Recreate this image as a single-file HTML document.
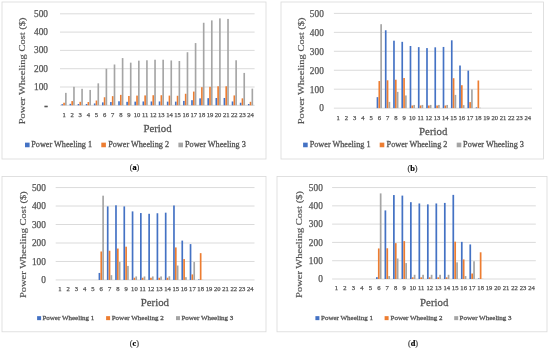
<!DOCTYPE html>
<html lang="en">
<head>
<meta charset="utf-8">
<title>Power Wheeling Cost per Period</title>
<style>
html,body{margin:0;padding:0;background:#fff;}
body{width:550px;height:350px;overflow:hidden;position:relative;}
svg{position:absolute;left:0;top:0;display:block;}
text{font-family:'Liberation Serif', 'DejaVu Serif', serif;fill:#555555;stroke:#555555;stroke-width:0.25px;}
.yt{font-size:9.3px;text-anchor:end;}
.xt{font-size:6.6px;text-anchor:middle;stroke-width:0.25px;}
.ttl{font-size:10.8px;text-anchor:middle;stroke-width:0.28px;}
.ytl{font-size:9.2px;text-anchor:middle;stroke-width:0.18px;}
.cap{font-size:8.3px;text-anchor:middle;fill:#333;stroke:#333;stroke-width:0.15px;}
.cap tspan{font-weight:bold;fill:#000;stroke:#000;stroke-width:0.2px;}
</style>
</head>
<body>
<svg width="550" height="350" viewBox="0 0 550 350">
<rect x="0" y="0" width="550" height="350" fill="#ffffff"/>
<g id="chart-a">
<rect x="2" y="2" width="264.0" height="157.0" fill="#fff" stroke="#D9D9D9" stroke-width="0.8"/>
<line x1="60.0" x2="254.6" y1="105.30" y2="105.30" stroke="#D2D2D2" stroke-width="0.8"/>
<text class="yt" style="stroke-width:0.8px" x="47.7" y="109.00">-</text>
<line x1="60.0" x2="254.6" y1="87.00" y2="87.00" stroke="#D2D2D2" stroke-width="0.8"/>
<text class="yt" x="48.0" y="90.00">100</text>
<line x1="60.0" x2="254.6" y1="68.70" y2="68.70" stroke="#D2D2D2" stroke-width="0.8"/>
<text class="yt" x="48.0" y="71.70">200</text>
<line x1="60.0" x2="254.6" y1="50.40" y2="50.40" stroke="#D2D2D2" stroke-width="0.8"/>
<text class="yt" x="48.0" y="53.40">300</text>
<line x1="60.0" x2="254.6" y1="32.10" y2="32.10" stroke="#D2D2D2" stroke-width="0.8"/>
<text class="yt" x="48.0" y="35.10">400</text>
<line x1="60.0" x2="254.6" y1="13.80" y2="13.80" stroke="#D2D2D2" stroke-width="0.8"/>
<text class="yt" x="48.0" y="16.80">500</text>
<g fill="#4472C4"><rect x="61.44" y="104.20" width="1.64" height="1.10"/><rect x="69.54" y="103.84" width="1.64" height="1.46"/><rect x="77.65" y="104.02" width="1.64" height="1.28"/><rect x="85.76" y="104.02" width="1.64" height="1.28"/><rect x="93.87" y="103.47" width="1.64" height="1.83"/><rect x="101.98" y="102.37" width="1.64" height="2.93"/><rect x="110.09" y="102.01" width="1.64" height="3.29"/><rect x="118.19" y="101.27" width="1.64" height="4.03"/><rect x="126.30" y="101.82" width="1.64" height="3.48"/><rect x="134.41" y="101.64" width="1.64" height="3.66"/><rect x="142.52" y="101.46" width="1.64" height="3.84"/><rect x="150.63" y="101.46" width="1.64" height="3.84"/><rect x="158.74" y="101.46" width="1.64" height="3.84"/><rect x="166.84" y="101.64" width="1.64" height="3.66"/><rect x="174.95" y="101.64" width="1.64" height="3.66"/><rect x="183.06" y="100.91" width="1.64" height="4.39"/><rect x="191.17" y="100.18" width="1.64" height="5.12"/><rect x="199.28" y="98.35" width="1.64" height="6.95"/><rect x="207.39" y="98.16" width="1.64" height="7.14"/><rect x="215.49" y="97.98" width="1.64" height="7.32"/><rect x="223.60" y="97.98" width="1.64" height="7.32"/><rect x="231.71" y="101.46" width="1.64" height="3.84"/><rect x="239.82" y="102.74" width="1.64" height="2.56"/><rect x="247.93" y="104.02" width="1.64" height="1.28"/></g>
<g fill="#ED7D31"><rect x="63.23" y="102.74" width="1.64" height="2.56"/><rect x="71.34" y="101.09" width="1.64" height="4.21"/><rect x="79.45" y="101.82" width="1.64" height="3.48"/><rect x="87.56" y="102.01" width="1.64" height="3.29"/><rect x="95.67" y="100.54" width="1.64" height="4.76"/><rect x="103.78" y="97.25" width="1.64" height="8.05"/><rect x="111.88" y="96.15" width="1.64" height="9.15"/><rect x="119.99" y="94.87" width="1.64" height="10.43"/><rect x="128.10" y="95.97" width="1.64" height="9.33"/><rect x="136.21" y="95.60" width="1.64" height="9.70"/><rect x="144.32" y="95.42" width="1.64" height="9.88"/><rect x="152.43" y="95.23" width="1.64" height="10.06"/><rect x="160.53" y="95.23" width="1.64" height="10.06"/><rect x="168.64" y="95.60" width="1.64" height="9.70"/><rect x="176.75" y="95.78" width="1.64" height="9.52"/><rect x="184.86" y="93.77" width="1.64" height="11.53"/><rect x="192.97" y="91.58" width="1.64" height="13.72"/><rect x="201.08" y="87.18" width="1.64" height="18.12"/><rect x="209.18" y="86.82" width="1.64" height="18.48"/><rect x="217.29" y="86.27" width="1.64" height="19.03"/><rect x="225.40" y="86.27" width="1.64" height="19.03"/><rect x="233.51" y="95.42" width="1.64" height="9.88"/><rect x="241.62" y="98.35" width="1.64" height="6.95"/><rect x="249.73" y="101.82" width="1.64" height="3.48"/></g>
<g fill="#A5A5A5"><rect x="65.03" y="92.86" width="1.64" height="12.44"/><rect x="73.14" y="86.82" width="1.64" height="18.48"/><rect x="81.25" y="88.83" width="1.64" height="16.47"/><rect x="89.36" y="89.93" width="1.64" height="15.37"/><rect x="97.46" y="83.34" width="1.64" height="21.96"/><rect x="105.57" y="68.70" width="1.64" height="36.60"/><rect x="113.68" y="64.49" width="1.64" height="40.81"/><rect x="121.79" y="58.09" width="1.64" height="47.21"/><rect x="129.90" y="62.66" width="1.64" height="42.64"/><rect x="138.01" y="60.65" width="1.64" height="44.65"/><rect x="146.11" y="60.28" width="1.64" height="45.02"/><rect x="154.22" y="59.73" width="1.64" height="45.57"/><rect x="162.33" y="59.73" width="1.64" height="45.57"/><rect x="170.44" y="60.46" width="1.64" height="44.84"/><rect x="178.55" y="61.01" width="1.64" height="44.29"/><rect x="186.66" y="52.23" width="1.64" height="53.07"/><rect x="194.76" y="43.08" width="1.64" height="62.22"/><rect x="202.87" y="22.77" width="1.64" height="82.53"/><rect x="210.98" y="20.39" width="1.64" height="84.91"/><rect x="219.09" y="18.38" width="1.64" height="86.92"/><rect x="227.20" y="18.92" width="1.64" height="86.38"/><rect x="235.31" y="60.28" width="1.64" height="45.02"/><rect x="243.41" y="72.91" width="1.64" height="32.39"/><rect x="251.52" y="88.65" width="1.64" height="16.65"/></g>
<text class="xt" x="64.05" y="116.75">1</text><text class="xt" x="72.16" y="116.75">2</text><text class="xt" x="80.27" y="116.75">3</text><text class="xt" x="88.38" y="116.75">4</text><text class="xt" x="96.49" y="116.75">5</text><text class="xt" x="104.60" y="116.75">6</text><text class="xt" x="112.70" y="116.75">7</text><text class="xt" x="120.81" y="116.75">8</text><text class="xt" x="128.92" y="116.75">9</text><text class="xt" x="137.03" y="116.75">10</text><text class="xt" x="145.14" y="116.75">11</text><text class="xt" x="153.25" y="116.75">12</text><text class="xt" x="161.35" y="116.75">13</text><text class="xt" x="169.46" y="116.75">14</text><text class="xt" x="177.57" y="116.75">15</text><text class="xt" x="185.68" y="116.75">16</text><text class="xt" x="193.79" y="116.75">17</text><text class="xt" x="201.90" y="116.75">18</text><text class="xt" x="210.00" y="116.75">19</text><text class="xt" x="218.11" y="116.75">20</text><text class="xt" x="226.22" y="116.75">21</text><text class="xt" x="234.33" y="116.75">22</text><text class="xt" x="242.44" y="116.75">23</text><text class="xt" x="250.55" y="116.75">24</text>
<text class="ttl" x="157.5" y="131.80">Period</text>
<text class="ytl" textLength="106.8" lengthAdjust="spacingAndGlyphs" transform="translate(25.2,70.9) rotate(-90)">Power Wheeling Cost ($)</text>
<rect x="25.0" y="142.65" width="4.6" height="4.6" fill="#4472C4"/><text x="31.3" y="147.49" style="font-size:8.2px;stroke-width:0.3px">Power Wheeling 1</text>
<rect x="101.3" y="142.65" width="4.6" height="4.6" fill="#ED7D31"/><text x="108.2" y="147.49" style="font-size:8.2px;stroke-width:0.3px">Power Wheeling 2</text>
<rect x="178.4" y="142.65" width="4.6" height="4.6" fill="#A5A5A5"/><text x="185.0" y="147.49" style="font-size:8.2px;stroke-width:0.3px">Power Wheeling 3</text>
<text class="cap" x="134.5" y="170.30">(<tspan>a</tspan>)</text>
</g>
<g id="chart-b">
<rect x="281" y="2" width="262.5" height="157.0" fill="#fff" stroke="#D9D9D9" stroke-width="0.8"/>
<line x1="333.9" x2="532.0" y1="108.15" y2="108.15" stroke="#D2D2D2" stroke-width="0.8"/>
<text class="yt" x="323.8" y="111.45">0</text>
<line x1="333.9" x2="532.0" y1="89.20" y2="89.20" stroke="#D2D2D2" stroke-width="0.8"/>
<text class="yt" x="323.8" y="92.50">100</text>
<line x1="333.9" x2="532.0" y1="70.25" y2="70.25" stroke="#D2D2D2" stroke-width="0.8"/>
<text class="yt" x="323.8" y="73.55">200</text>
<line x1="333.9" x2="532.0" y1="51.30" y2="51.30" stroke="#D2D2D2" stroke-width="0.8"/>
<text class="yt" x="323.8" y="54.60">300</text>
<line x1="333.9" x2="532.0" y1="32.35" y2="32.35" stroke="#D2D2D2" stroke-width="0.8"/>
<text class="yt" x="323.8" y="35.65">400</text>
<line x1="333.9" x2="532.0" y1="13.40" y2="13.40" stroke="#D2D2D2" stroke-width="0.8"/>
<text class="yt" x="323.8" y="16.70">500</text>
<g fill="#4472C4"><rect x="376.63" y="97.16" width="1.67" height="10.99"/><rect x="384.89" y="30.27" width="1.67" height="77.88"/><rect x="393.14" y="40.69" width="1.67" height="67.46"/><rect x="401.40" y="41.83" width="1.67" height="66.33"/><rect x="409.65" y="45.99" width="1.67" height="62.16"/><rect x="417.90" y="47.13" width="1.67" height="61.02"/><rect x="426.16" y="48.08" width="1.67" height="60.07"/><rect x="434.41" y="47.32" width="1.67" height="60.83"/><rect x="442.67" y="46.94" width="1.67" height="61.21"/><rect x="450.92" y="40.31" width="1.67" height="67.84"/><rect x="459.17" y="65.51" width="1.67" height="42.64"/><rect x="467.43" y="70.63" width="1.67" height="37.52"/><rect x="475.68" y="107.39" width="1.67" height="0.76"/></g>
<g fill="#ED7D31"><rect x="378.46" y="81.05" width="1.67" height="27.10"/><rect x="386.72" y="80.29" width="1.67" height="27.86"/><rect x="394.97" y="79.73" width="1.67" height="28.43"/><rect x="403.22" y="78.02" width="1.67" height="30.13"/><rect x="411.48" y="105.50" width="1.67" height="2.65"/><rect x="419.73" y="105.50" width="1.67" height="2.65"/><rect x="427.99" y="105.50" width="1.67" height="2.65"/><rect x="436.24" y="105.50" width="1.67" height="2.65"/><rect x="444.50" y="105.50" width="1.67" height="2.65"/><rect x="452.75" y="78.21" width="1.67" height="29.94"/><rect x="461.00" y="85.22" width="1.67" height="22.93"/><rect x="469.26" y="102.09" width="1.67" height="6.06"/><rect x="477.51" y="80.48" width="1.67" height="27.67"/></g>
<g fill="#A5A5A5"><rect x="380.29" y="24.20" width="1.67" height="83.95"/><rect x="388.55" y="101.90" width="1.67" height="6.25"/><rect x="396.80" y="91.85" width="1.67" height="16.30"/><rect x="405.05" y="95.45" width="1.67" height="12.70"/><rect x="413.31" y="104.93" width="1.67" height="3.22"/><rect x="421.56" y="104.93" width="1.67" height="3.22"/><rect x="429.82" y="104.93" width="1.67" height="3.22"/><rect x="438.07" y="104.93" width="1.67" height="3.22"/><rect x="446.33" y="104.93" width="1.67" height="3.22"/><rect x="454.58" y="94.89" width="1.67" height="13.27"/><rect x="462.83" y="105.12" width="1.67" height="3.03"/><rect x="471.09" y="89.39" width="1.67" height="18.76"/><rect x="479.34" y="107.77" width="1.67" height="0.38"/></g>
<text class="xt" x="338.03" y="119.55">1</text><text class="xt" x="346.28" y="119.55">2</text><text class="xt" x="354.54" y="119.55">3</text><text class="xt" x="362.79" y="119.55">4</text><text class="xt" x="371.04" y="119.55">5</text><text class="xt" x="379.30" y="119.55">6</text><text class="xt" x="387.55" y="119.55">7</text><text class="xt" x="395.81" y="119.55">8</text><text class="xt" x="404.06" y="119.55">9</text><text class="xt" x="412.31" y="119.55">10</text><text class="xt" x="420.57" y="119.55">11</text><text class="xt" x="428.82" y="119.55">12</text><text class="xt" x="437.08" y="119.55">13</text><text class="xt" x="445.33" y="119.55">14</text><text class="xt" x="453.59" y="119.55">15</text><text class="xt" x="461.84" y="119.55">16</text><text class="xt" x="470.09" y="119.55">17</text><text class="xt" x="478.35" y="119.55">18</text><text class="xt" x="486.60" y="119.55">19</text><text class="xt" x="494.86" y="119.55">20</text><text class="xt" x="503.11" y="119.55">21</text><text class="xt" x="511.36" y="119.55">22</text><text class="xt" x="519.62" y="119.55">23</text><text class="xt" x="527.87" y="119.55">24</text>
<text class="ttl" x="433.2" y="134.50">Period</text>
<text class="ytl" textLength="106.8" lengthAdjust="spacingAndGlyphs" transform="translate(303.6,70.9) rotate(-90)">Power Wheeling Cost ($)</text>
<rect x="303.1" y="142.65" width="4.6" height="4.6" fill="#4472C4"/><text x="309.7" y="147.49" style="font-size:8.2px;stroke-width:0.3px">Power Wheeling 1</text>
<rect x="379.7" y="142.65" width="4.6" height="4.6" fill="#ED7D31"/><text x="386.6" y="147.49" style="font-size:8.2px;stroke-width:0.3px">Power Wheeling 2</text>
<rect x="456.7" y="142.65" width="4.6" height="4.6" fill="#A5A5A5"/><text x="463.1" y="147.49" style="font-size:8.2px;stroke-width:0.3px">Power Wheeling 3</text>
<text class="cap" x="412.5" y="170.60">(<tspan>b</tspan>)</text>
</g>
<g id="chart-c">
<rect x="2" y="176.5" width="264.0" height="155.3" fill="#fff" stroke="#D9D9D9" stroke-width="0.8"/>
<line x1="55.7" x2="254.5" y1="279.95" y2="279.95" stroke="#D2D2D2" stroke-width="0.8"/>
<text class="yt" x="45.9" y="283.25">0</text>
<line x1="55.7" x2="254.5" y1="261.47" y2="261.47" stroke="#D2D2D2" stroke-width="0.8"/>
<text class="yt" x="45.9" y="264.77">100</text>
<line x1="55.7" x2="254.5" y1="242.99" y2="242.99" stroke="#D2D2D2" stroke-width="0.8"/>
<text class="yt" x="45.9" y="246.29">200</text>
<line x1="55.7" x2="254.5" y1="224.51" y2="224.51" stroke="#D2D2D2" stroke-width="0.8"/>
<text class="yt" x="45.9" y="227.81">300</text>
<line x1="55.7" x2="254.5" y1="206.03" y2="206.03" stroke="#D2D2D2" stroke-width="0.8"/>
<text class="yt" x="45.9" y="209.33">400</text>
<line x1="55.7" x2="254.5" y1="187.55" y2="187.55" stroke="#D2D2D2" stroke-width="0.8"/>
<text class="yt" x="45.9" y="190.85">500</text>
<g fill="#4472C4"><rect x="98.58" y="272.93" width="1.68" height="7.02"/><rect x="106.87" y="206.40" width="1.68" height="73.55"/><rect x="115.15" y="205.29" width="1.68" height="74.66"/><rect x="123.43" y="206.40" width="1.68" height="73.55"/><rect x="131.72" y="211.39" width="1.68" height="68.56"/><rect x="140.00" y="213.05" width="1.68" height="66.90"/><rect x="148.28" y="213.79" width="1.68" height="66.16"/><rect x="156.57" y="213.24" width="1.68" height="66.71"/><rect x="164.85" y="212.68" width="1.68" height="67.27"/><rect x="173.13" y="205.48" width="1.68" height="74.47"/><rect x="181.42" y="240.59" width="1.68" height="39.36"/><rect x="189.70" y="244.10" width="1.68" height="35.85"/><rect x="197.98" y="279.40" width="1.68" height="0.55"/></g>
<g fill="#ED7D31"><rect x="100.42" y="251.49" width="1.68" height="28.46"/><rect x="108.70" y="250.75" width="1.68" height="29.20"/><rect x="116.99" y="248.53" width="1.68" height="31.42"/><rect x="125.27" y="246.69" width="1.68" height="33.26"/><rect x="133.55" y="277.73" width="1.68" height="2.22"/><rect x="141.84" y="277.73" width="1.68" height="2.22"/><rect x="150.12" y="277.73" width="1.68" height="2.22"/><rect x="158.40" y="277.73" width="1.68" height="2.22"/><rect x="166.69" y="277.73" width="1.68" height="2.22"/><rect x="174.97" y="247.43" width="1.68" height="32.52"/><rect x="183.25" y="259.07" width="1.68" height="20.88"/><rect x="191.54" y="274.41" width="1.68" height="5.54"/><rect x="199.82" y="253.15" width="1.68" height="26.80"/></g>
<g fill="#A5A5A5"><rect x="102.26" y="195.68" width="1.68" height="84.27"/><rect x="110.54" y="275.15" width="1.68" height="4.80"/><rect x="118.82" y="262.02" width="1.68" height="17.93"/><rect x="127.11" y="265.91" width="1.68" height="14.04"/><rect x="135.39" y="276.44" width="1.68" height="3.51"/><rect x="143.67" y="276.44" width="1.68" height="3.51"/><rect x="151.96" y="276.44" width="1.68" height="3.51"/><rect x="160.24" y="276.44" width="1.68" height="3.51"/><rect x="168.52" y="276.25" width="1.68" height="3.70"/><rect x="176.81" y="265.54" width="1.68" height="14.41"/><rect x="185.09" y="277.18" width="1.68" height="2.77"/><rect x="193.37" y="262.02" width="1.68" height="17.93"/><rect x="201.66" y="279.77" width="1.68" height="0.18"/></g>
<text class="xt" x="59.84" y="290.85">1</text><text class="xt" x="68.12" y="290.85">2</text><text class="xt" x="76.41" y="290.85">3</text><text class="xt" x="84.69" y="290.85">4</text><text class="xt" x="92.97" y="290.85">5</text><text class="xt" x="101.26" y="290.85">6</text><text class="xt" x="109.54" y="290.85">7</text><text class="xt" x="117.83" y="290.85">8</text><text class="xt" x="126.11" y="290.85">9</text><text class="xt" x="134.39" y="290.85">10</text><text class="xt" x="142.68" y="290.85">11</text><text class="xt" x="150.96" y="290.85">12</text><text class="xt" x="159.24" y="290.85">13</text><text class="xt" x="167.53" y="290.85">14</text><text class="xt" x="175.81" y="290.85">15</text><text class="xt" x="184.09" y="290.85">16</text><text class="xt" x="192.38" y="290.85">17</text><text class="xt" x="200.66" y="290.85">18</text><text class="xt" x="208.94" y="290.85">19</text><text class="xt" x="217.23" y="290.85">20</text><text class="xt" x="225.51" y="290.85">21</text><text class="xt" x="233.79" y="290.85">22</text><text class="xt" x="242.07" y="290.85">23</text><text class="xt" x="250.36" y="290.85">24</text>
<text class="ttl" x="154.9" y="306.30">Period</text>
<text class="ytl" textLength="106.8" lengthAdjust="spacingAndGlyphs" transform="translate(25.6,244.7) rotate(-90)">Power Wheeling Cost ($)</text>
<rect x="37.1" y="316.15" width="4.0" height="4.0" fill="#4472C4"/><text x="42.4" y="320.32" style="font-size:7.0px;stroke-width:0.3px">Power Wheeling 1</text>
<rect x="106.1" y="316.15" width="4.0" height="4.0" fill="#ED7D31"/><text x="111.7" y="320.32" style="font-size:7.0px;stroke-width:0.3px">Power Wheeling 2</text>
<rect x="176.0" y="316.15" width="4.0" height="4.0" fill="#A5A5A5"/><text x="181.4" y="320.32" style="font-size:7.0px;stroke-width:0.3px">Power Wheeling 3</text>
<text class="cap" x="134.4" y="346.40">(<tspan>c</tspan>)</text>
</g>
<g id="chart-d">
<rect x="277" y="176.5" width="270.0" height="155.3" fill="#fff" stroke="#D9D9D9" stroke-width="0.8"/>
<line x1="332.1" x2="535.8" y1="279.00" y2="279.00" stroke="#D2D2D2" stroke-width="0.8"/>
<text class="yt" x="322.8" y="282.30">0</text>
<line x1="332.1" x2="535.8" y1="260.71" y2="260.71" stroke="#D2D2D2" stroke-width="0.8"/>
<text class="yt" x="322.8" y="264.01">100</text>
<line x1="332.1" x2="535.8" y1="242.42" y2="242.42" stroke="#D2D2D2" stroke-width="0.8"/>
<text class="yt" x="322.8" y="245.72">200</text>
<line x1="332.1" x2="535.8" y1="224.13" y2="224.13" stroke="#D2D2D2" stroke-width="0.8"/>
<text class="yt" x="322.8" y="227.43">300</text>
<line x1="332.1" x2="535.8" y1="205.84" y2="205.84" stroke="#D2D2D2" stroke-width="0.8"/>
<text class="yt" x="322.8" y="209.14">400</text>
<line x1="332.1" x2="535.8" y1="187.55" y2="187.55" stroke="#D2D2D2" stroke-width="0.8"/>
<text class="yt" x="322.8" y="190.85">500</text>
<g fill="#4472C4"><rect x="376.04" y="277.17" width="1.72" height="1.83"/><rect x="384.53" y="210.41" width="1.72" height="68.59"/><rect x="393.02" y="195.05" width="1.72" height="83.95"/><rect x="401.50" y="195.60" width="1.72" height="83.40"/><rect x="409.99" y="202.18" width="1.72" height="76.82"/><rect x="418.48" y="203.46" width="1.72" height="75.54"/><rect x="426.97" y="204.38" width="1.72" height="74.62"/><rect x="435.45" y="203.46" width="1.72" height="75.54"/><rect x="443.94" y="202.91" width="1.72" height="76.09"/><rect x="452.43" y="194.87" width="1.72" height="84.13"/><rect x="460.92" y="241.87" width="1.72" height="37.13"/><rect x="469.40" y="244.43" width="1.72" height="34.57"/><rect x="477.89" y="278.45" width="1.72" height="0.55"/></g>
<g fill="#ED7D31"><rect x="377.92" y="248.46" width="1.72" height="30.54"/><rect x="386.41" y="248.27" width="1.72" height="30.73"/><rect x="394.90" y="243.15" width="1.72" height="35.85"/><rect x="403.38" y="241.14" width="1.72" height="37.86"/><rect x="411.87" y="277.35" width="1.72" height="1.65"/><rect x="420.36" y="277.35" width="1.72" height="1.65"/><rect x="428.85" y="277.35" width="1.72" height="1.65"/><rect x="437.33" y="277.35" width="1.72" height="1.65"/><rect x="445.82" y="277.35" width="1.72" height="1.65"/><rect x="454.31" y="241.69" width="1.72" height="37.31"/><rect x="462.80" y="259.43" width="1.72" height="19.57"/><rect x="471.28" y="273.51" width="1.72" height="5.49"/><rect x="479.77" y="252.30" width="1.72" height="26.70"/></g>
<g fill="#A5A5A5"><rect x="379.80" y="193.40" width="1.72" height="85.60"/><rect x="388.29" y="276.07" width="1.72" height="2.93"/><rect x="396.78" y="258.52" width="1.72" height="20.48"/><rect x="405.27" y="263.09" width="1.72" height="15.91"/><rect x="413.75" y="274.79" width="1.72" height="4.21"/><rect x="422.24" y="274.79" width="1.72" height="4.21"/><rect x="430.73" y="274.79" width="1.72" height="4.21"/><rect x="439.22" y="274.79" width="1.72" height="4.21"/><rect x="447.70" y="274.79" width="1.72" height="4.21"/><rect x="456.19" y="262.36" width="1.72" height="16.64"/><rect x="464.68" y="276.07" width="1.72" height="2.93"/><rect x="473.17" y="261.26" width="1.72" height="17.74"/><rect x="481.65" y="278.82" width="1.72" height="0.18"/></g>
<text class="xt" x="336.34" y="290.15">1</text><text class="xt" x="344.83" y="290.15">2</text><text class="xt" x="353.32" y="290.15">3</text><text class="xt" x="361.81" y="290.15">4</text><text class="xt" x="370.29" y="290.15">5</text><text class="xt" x="378.78" y="290.15">6</text><text class="xt" x="387.27" y="290.15">7</text><text class="xt" x="395.76" y="290.15">8</text><text class="xt" x="404.24" y="290.15">9</text><text class="xt" x="412.73" y="290.15">10</text><text class="xt" x="421.22" y="290.15">11</text><text class="xt" x="429.71" y="290.15">12</text><text class="xt" x="438.19" y="290.15">13</text><text class="xt" x="446.68" y="290.15">14</text><text class="xt" x="455.17" y="290.15">15</text><text class="xt" x="463.66" y="290.15">16</text><text class="xt" x="472.14" y="290.15">17</text><text class="xt" x="480.63" y="290.15">18</text><text class="xt" x="489.12" y="290.15">19</text><text class="xt" x="497.61" y="290.15">20</text><text class="xt" x="506.09" y="290.15">21</text><text class="xt" x="514.58" y="290.15">22</text><text class="xt" x="523.07" y="290.15">23</text><text class="xt" x="531.56" y="290.15">24</text>
<text class="ttl" x="434.2" y="305.60">Period</text>
<text class="ytl" textLength="106.8" lengthAdjust="spacingAndGlyphs" transform="translate(302.3,244.5) rotate(-90)">Power Wheeling Cost ($)</text>
<rect x="315.4" y="316.15" width="4.0" height="4.0" fill="#4472C4"/><text x="321.0" y="320.32" style="font-size:7.0px;stroke-width:0.3px">Power Wheeling 1</text>
<rect x="384.6" y="316.15" width="4.0" height="4.0" fill="#ED7D31"/><text x="390.5" y="320.32" style="font-size:7.0px;stroke-width:0.3px">Power Wheeling 2</text>
<rect x="454.2" y="316.15" width="4.0" height="4.0" fill="#A5A5A5"/><text x="459.6" y="320.32" style="font-size:7.0px;stroke-width:0.3px">Power Wheeling 3</text>
<text class="cap" x="413.0" y="346.40">(<tspan>d</tspan>)</text>
</g>
</svg>
</body>
</html>
